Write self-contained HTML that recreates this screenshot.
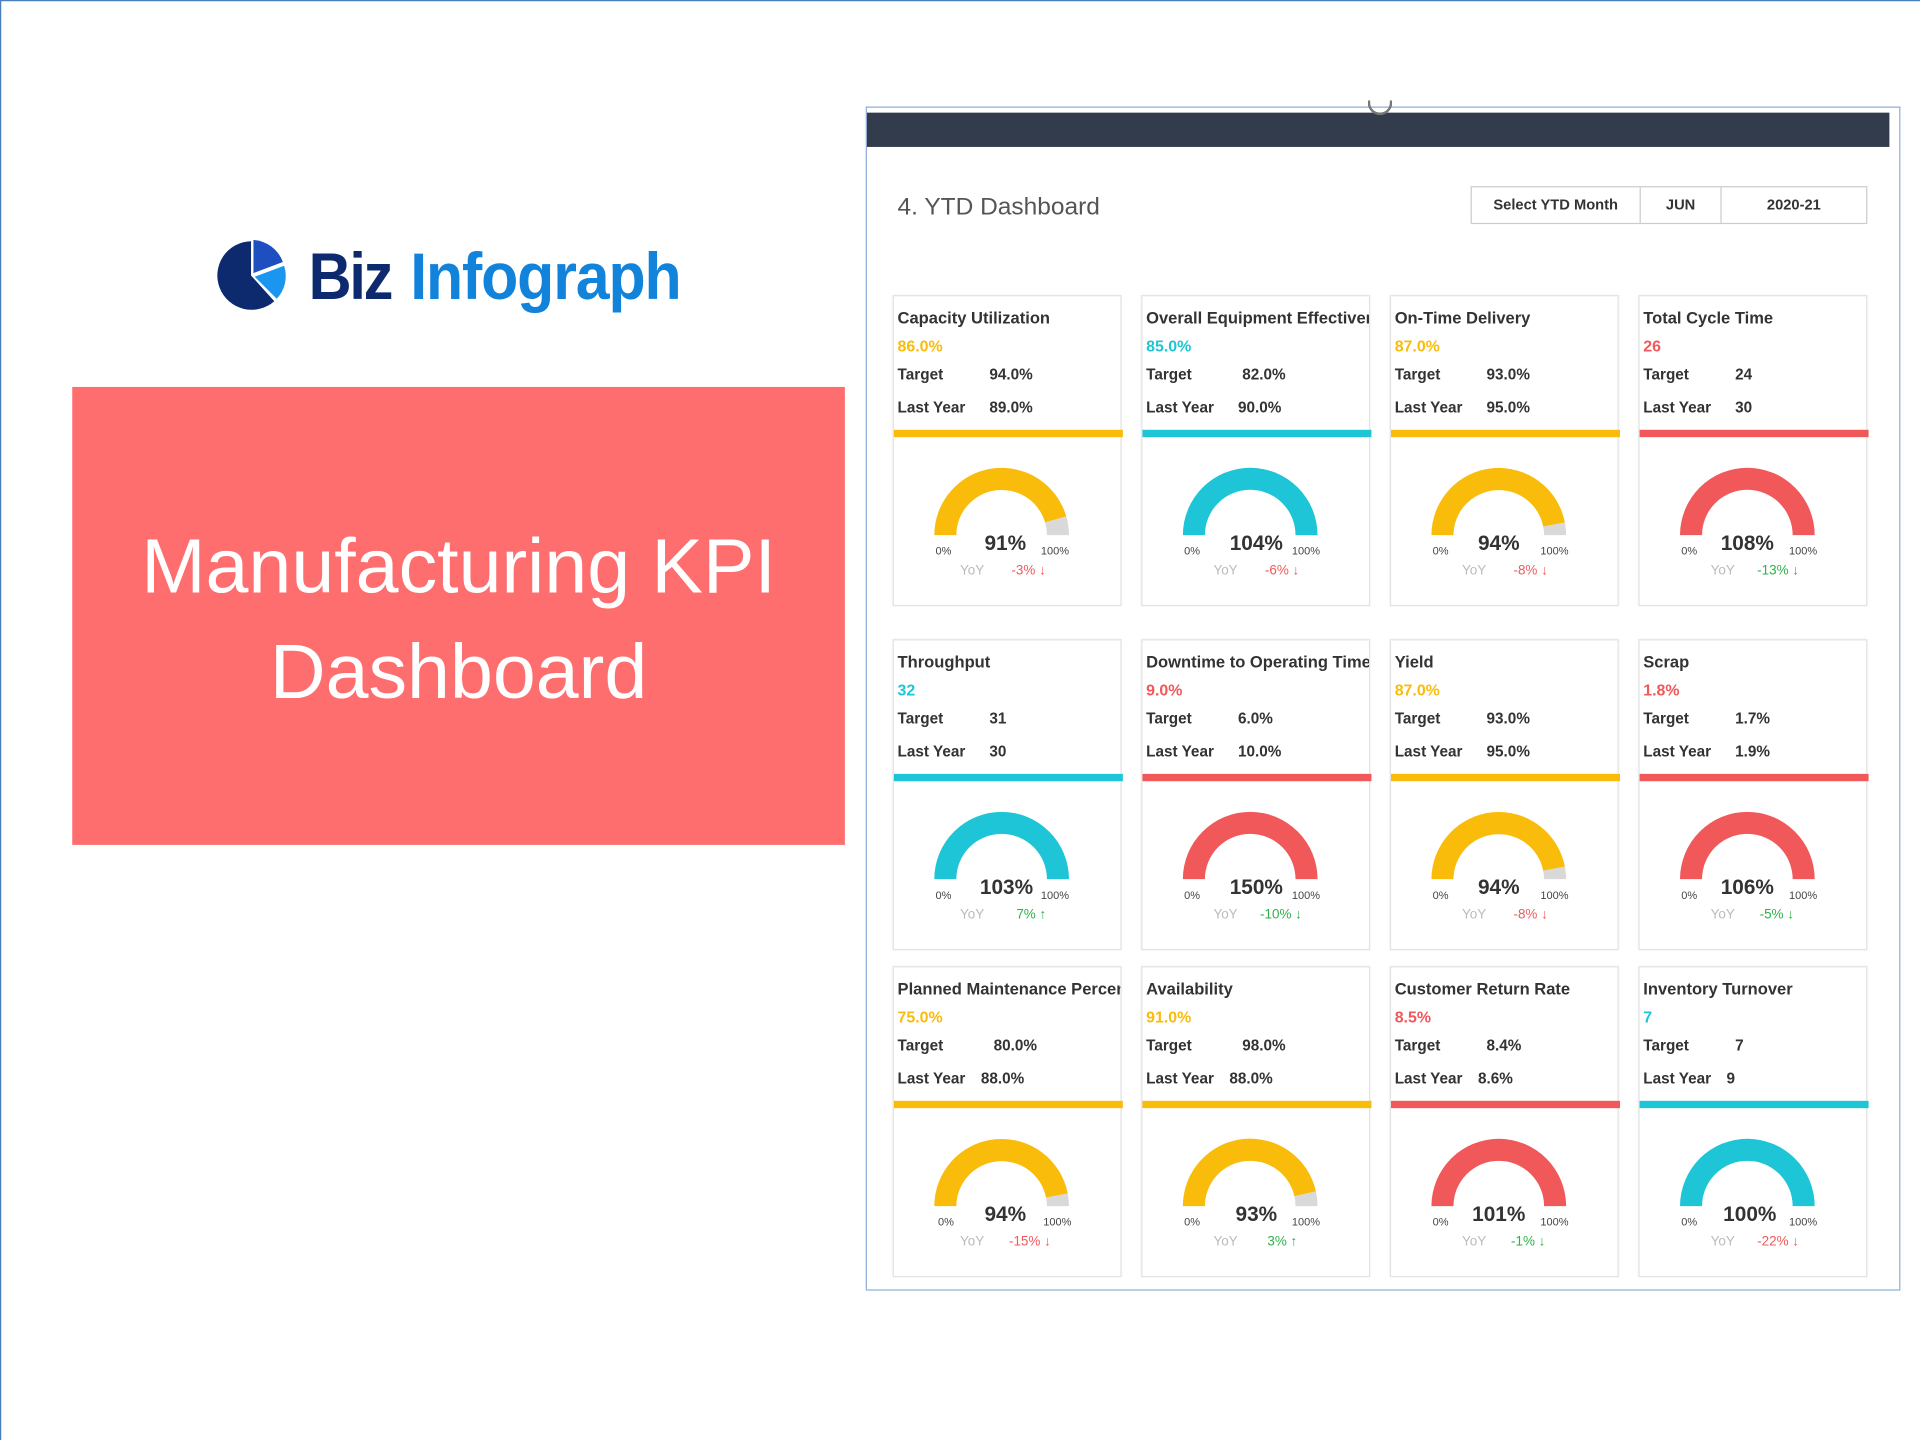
<!DOCTYPE html>
<html><head><meta charset="utf-8">
<style>
html,body{margin:0;padding:0;background:#fff;}
body{width:1920px;height:1440px;overflow:hidden;position:relative;font-family:"Liberation Sans",sans-serif;}
#w{position:absolute;left:0;top:0;width:1568px;height:1176px;transform:scale(1.22449);transform-origin:0 0;}
.abs{position:absolute;}
.card{position:absolute;width:185px;height:252px;border:1px solid #e2e2e2;background:#fff;box-shadow:0 0 2px #eee;}
.t{position:absolute;left:3px;top:10px;font-size:13.5px;font-weight:bold;color:#333;white-space:nowrap;width:182px;overflow:hidden;}
.v{position:absolute;left:3px;top:33px;font-size:13px;font-weight:bold;}
.r1,.r2{position:absolute;left:3px;font-size:12.5px;font-weight:bold;color:#333;}
.r1{top:57px}.r2{top:84px}
.r1 span,.r2 span{position:absolute;left:75px;white-space:nowrap;}
.bar{position:absolute;left:0;top:109px;width:187px;height:6px;}
.g{position:absolute;left:0;top:115px;}
.Y{color:#f9bc0b}.C{color:#1ec5d6}.R{color:#f0585a}
.yb{background:#f9bc0b}.cb{background:#1ec5d6}.rb{background:#f0585a}
</style></head><body><div id="w">
<div class="abs" style="left:0;top:0;width:1px;height:1176px;background:#4a7ebb"></div>
<div class="abs" style="left:0;top:0;width:1568px;height:1px;background:#4a7ebb"></div>
<!-- logo -->
<svg class="abs" style="left:174px;top:194px" width="64" height="62" viewBox="0 0 64 62">
<path d="M31,31 L31,3 A28,28 0 1 0 50,52 Z" fill="#0d2a6e"/>
<path d="M33,29 L33,2 A27,27 0 0 1 57,20 Z" fill="#1e4fc0"/>
<path d="M34,32 L58,23 A27,27 0 0 1 52,50 Z" fill="#1a96f0"/>
</svg>
<div class="abs" style="left:252px;top:195px;font-size:54px;font-weight:bold;color:#0d2a6e;letter-spacing:-2px;transform:scaleX(0.9);transform-origin:0 0;">Biz</div>
<div class="abs" style="left:335px;top:195px;font-size:54px;font-weight:bold;color:#1283db;letter-spacing:-1px;transform:scaleX(0.92);transform-origin:0 0;">Infograph</div>
<div class="abs" style="left:59px;top:316px;width:631px;height:374px;background:#fe6e6e;"></div>
<div class="abs" style="left:59px;top:420px;width:631px;text-align:center;color:#fff;font-size:63px;line-height:86px;">Manufacturing KPI<br>Dashboard</div>
<!-- dashboard -->
<div class="abs" style="left:707px;top:87px;width:845px;height:967px;border:1px solid #8faed6;box-sizing:border-box;"></div>
<div class="abs" style="left:708px;top:92px;width:835px;height:28px;background:#323c4c;"></div>
<div class="abs" style="left:1117px;top:82px;width:16px;height:10px;border:2px solid #777;border-top:none;border-radius:0 0 10px 10px;"></div>
<div class="abs" style="left:733px;top:158px;font-size:20px;color:#555;">4. YTD Dashboard</div>
<div class="abs" style="left:1201px;top:152px;width:324px;height:31px;border:1px solid #ccc;box-sizing:border-box;font-size:12px;font-weight:bold;color:#333;">
<div class="abs" style="left:0;top:0;width:137px;height:29px;line-height:29px;text-align:center;border-right:1px solid #ccc;">Select YTD Month</div>
<div class="abs" style="left:138px;top:0;width:65px;height:29px;line-height:29px;text-align:center;border-right:1px solid #ccc;">JUN</div>
<div class="abs" style="left:204px;top:0;width:118px;height:29px;line-height:29px;text-align:center;">2020-21</div>
</div>

<!-- Row 1 -->
<div class="card" style="left:729px;top:241px"><div class="t">Capacity Utilization</div><div class="v Y">86.0%</div><div class="r1">Target<span>94.0%</span></div><div class="r2">Last Year<span>89.0%</span></div><div class="bar yb"></div>
<svg class="g" width="187" height="137" viewBox="0 0 187 137"><g transform="translate(88,80)"><path d="M-55,0 A55,55 0 0 1 52.8,-15.3 L35.5,-10.3 A37,37 0 0 0 -37,0Z" fill="#f9bc0b"/><path d="M52.8,-15.3 A55,55 0 0 1 55,0 L37,0 A37,37 0 0 0 35.5,-10.3Z" fill="#d9d9d9"/></g>
<text x="91" y="92" font-size="17" font-weight="bold" text-anchor="middle" fill="#333">91%</text><text x="34" y="96" font-size="9" fill="#444">0%</text><text x="120" y="96" font-size="9" fill="#444">100%</text><text x="54" y="112" font-size="11" fill="#bbb">YoY</text><text x="96" y="112" font-size="11" fill="#f0585a">-3% ↓</text></svg></div>

<div class="card" style="left:932px;top:241px"><div class="t">Overall Equipment Effectiveness</div><div class="v C">85.0%</div><div class="r1">Target<span>&nbsp;82.0%</span></div><div class="r2">Last Year<span>90.0%</span></div><div class="bar cb"></div>
<svg class="g" width="187" height="137" viewBox="0 0 187 137"><g transform="translate(88,80)"><path d="M-55,0 A55,55 0 0 1 55,0 L37,0 A37,37 0 0 0 -37,0Z" fill="#1ec5d6"/></g>
<text x="93" y="92" font-size="17" font-weight="bold" text-anchor="middle" fill="#333">104%</text><text x="34" y="96" font-size="9" fill="#444">0%</text><text x="122" y="96" font-size="9" fill="#444">100%</text><text x="58" y="112" font-size="11" fill="#bbb">YoY</text><text x="100" y="112" font-size="11" fill="#f0585a">-6% ↓</text></svg></div>

<div class="card" style="left:1135px;top:241px"><div class="t">On-Time Delivery</div><div class="v Y">87.0%</div><div class="r1">Target<span>93.0%</span></div><div class="r2">Last Year<span>95.0%</span></div><div class="bar yb"></div>
<svg class="g" width="187" height="137" viewBox="0 0 187 137"><g transform="translate(88,80)"><path d="M-55,0 A55,55 0 0 1 54.0,-10.3 L36.3,-6.9 A37,37 0 0 0 -37,0Z" fill="#f9bc0b"/><path d="M54.0,-10.3 A55,55 0 0 1 55,0 L37,0 A37,37 0 0 0 36.3,-6.9Z" fill="#d9d9d9"/></g>
<text x="88" y="92" font-size="17" font-weight="bold" text-anchor="middle" fill="#333">94%</text><text x="34" y="96" font-size="9" fill="#444">0%</text><text x="122" y="96" font-size="9" fill="#444">100%</text><text x="58" y="112" font-size="11" fill="#bbb">YoY</text><text x="100" y="112" font-size="11" fill="#f0585a">-8% ↓</text></svg></div>

<div class="card" style="left:1338px;top:241px"><div class="t">Total Cycle Time</div><div class="v R">26</div><div class="r1">Target<span>24</span></div><div class="r2">Last Year<span>30</span></div><div class="bar rb"></div>
<svg class="g" width="187" height="137" viewBox="0 0 187 137"><g transform="translate(88,80)"><path d="M-55,0 A55,55 0 0 1 55,0 L37,0 A37,37 0 0 0 -37,0Z" fill="#f0585a"/></g>
<text x="88" y="92" font-size="17" font-weight="bold" text-anchor="middle" fill="#333">108%</text><text x="34" y="96" font-size="9" fill="#444">0%</text><text x="122" y="96" font-size="9" fill="#444">100%</text><text x="58" y="112" font-size="11" fill="#bbb">YoY</text><text x="96" y="112" font-size="11" fill="#2db24a">-13% ↓</text></svg></div>

<!-- Row 2 -->
<div class="card" style="left:729px;top:522px"><div class="t">Throughput</div><div class="v C">32</div><div class="r1">Target<span>31</span></div><div class="r2">Last Year<span>30</span></div><div class="bar cb"></div>
<svg class="g" width="187" height="137" viewBox="0 0 187 137"><g transform="translate(88,80)"><path d="M-55,0 A55,55 0 0 1 55,0 L37,0 A37,37 0 0 0 -37,0Z" fill="#1ec5d6"/></g>
<text x="92" y="92" font-size="17" font-weight="bold" text-anchor="middle" fill="#333">103%</text><text x="34" y="96" font-size="9" fill="#444">0%</text><text x="120" y="96" font-size="9" fill="#444">100%</text><text x="54" y="112" font-size="11" fill="#bbb">YoY</text><text x="100" y="112" font-size="11" fill="#2db24a">7% ↑</text></svg></div>

<div class="card" style="left:932px;top:522px"><div class="t">Downtime to Operating Time</div><div class="v R">9.0%</div><div class="r1">Target<span>6.0%</span></div><div class="r2">Last Year<span>10.0%</span></div><div class="bar rb"></div>
<svg class="g" width="187" height="137" viewBox="0 0 187 137"><g transform="translate(88,80)"><path d="M-55,0 A55,55 0 0 1 55,0 L37,0 A37,37 0 0 0 -37,0Z" fill="#f0585a"/></g>
<text x="93" y="92" font-size="17" font-weight="bold" text-anchor="middle" fill="#333">150%</text><text x="34" y="96" font-size="9" fill="#444">0%</text><text x="122" y="96" font-size="9" fill="#444">100%</text><text x="58" y="112" font-size="11" fill="#bbb">YoY</text><text x="96" y="112" font-size="11" fill="#2db24a">-10% ↓</text></svg></div>

<div class="card" style="left:1135px;top:522px"><div class="t">Yield</div><div class="v Y">87.0%</div><div class="r1">Target<span>93.0%</span></div><div class="r2">Last Year<span>95.0%</span></div><div class="bar yb"></div>
<svg class="g" width="187" height="137" viewBox="0 0 187 137"><g transform="translate(88,80)"><path d="M-55,0 A55,55 0 0 1 54.0,-10.3 L36.3,-6.9 A37,37 0 0 0 -37,0Z" fill="#f9bc0b"/><path d="M54.0,-10.3 A55,55 0 0 1 55,0 L37,0 A37,37 0 0 0 36.3,-6.9Z" fill="#d9d9d9"/></g>
<text x="88" y="92" font-size="17" font-weight="bold" text-anchor="middle" fill="#333">94%</text><text x="34" y="96" font-size="9" fill="#444">0%</text><text x="122" y="96" font-size="9" fill="#444">100%</text><text x="58" y="112" font-size="11" fill="#bbb">YoY</text><text x="100" y="112" font-size="11" fill="#f0585a">-8% ↓</text></svg></div>

<div class="card" style="left:1338px;top:522px"><div class="t">Scrap</div><div class="v R">1.8%</div><div class="r1">Target<span>1.7%</span></div><div class="r2">Last Year<span>1.9%</span></div><div class="bar rb"></div>
<svg class="g" width="187" height="137" viewBox="0 0 187 137"><g transform="translate(88,80)"><path d="M-55,0 A55,55 0 0 1 55,0 L37,0 A37,37 0 0 0 -37,0Z" fill="#f0585a"/></g>
<text x="88" y="92" font-size="17" font-weight="bold" text-anchor="middle" fill="#333">106%</text><text x="34" y="96" font-size="9" fill="#444">0%</text><text x="122" y="96" font-size="9" fill="#444">100%</text><text x="58" y="112" font-size="11" fill="#bbb">YoY</text><text x="98" y="112" font-size="11" fill="#2db24a">-5% ↓</text></svg></div>

<!-- Row 3 -->
<div class="card" style="left:729px;top:789px"><div class="t">Planned Maintenance Percentage</div><div class="v Y">75.0%</div><div class="r1">Target<span>&nbsp;80.0%</span></div><div class="r2">Last Year<span style="left:68px">88.0%</span></div><div class="bar yb"></div>
<svg class="g" width="187" height="137" viewBox="0 0 187 137"><g transform="translate(88,80)"><path d="M-55,0 A55,55 0 0 1 54.0,-10.3 L36.3,-6.9 A37,37 0 0 0 -37,0Z" fill="#f9bc0b"/><path d="M54.0,-10.3 A55,55 0 0 1 55,0 L37,0 A37,37 0 0 0 36.3,-6.9Z" fill="#d9d9d9"/></g>
<text x="91" y="92" font-size="17" font-weight="bold" text-anchor="middle" fill="#333">94%</text><text x="36" y="96" font-size="9" fill="#444">0%</text><text x="122" y="96" font-size="9" fill="#444">100%</text><text x="54" y="112" font-size="11" fill="#bbb">YoY</text><text x="94" y="112" font-size="11" fill="#f0585a">-15% ↓</text></svg></div>

<div class="card" style="left:932px;top:789px"><div class="t">Availability</div><div class="v Y">91.0%</div><div class="r1">Target<span>&nbsp;98.0%</span></div><div class="r2">Last Year<span style="left:68px">88.0%</span></div><div class="bar yb"></div>
<svg class="g" width="187" height="137" viewBox="0 0 187 137"><g transform="translate(88,80)"><path d="M-55,0 A55,55 0 0 1 53.7,-12.0 L36.1,-8.1 A37,37 0 0 0 -37,0Z" fill="#f9bc0b"/><path d="M53.7,-12.0 A55,55 0 0 1 55,0 L37,0 A37,37 0 0 0 36.1,-8.1Z" fill="#d9d9d9"/></g>
<text x="93" y="92" font-size="17" font-weight="bold" text-anchor="middle" fill="#333">93%</text><text x="34" y="96" font-size="9" fill="#444">0%</text><text x="122" y="96" font-size="9" fill="#444">100%</text><text x="58" y="112" font-size="11" fill="#bbb">YoY</text><text x="102" y="112" font-size="11" fill="#2db24a">3% ↑</text></svg></div>

<div class="card" style="left:1135px;top:789px"><div class="t">Customer Return Rate</div><div class="v R">8.5%</div><div class="r1">Target<span>8.4%</span></div><div class="r2">Last Year<span style="left:68px">8.6%</span></div><div class="bar rb"></div>
<svg class="g" width="187" height="137" viewBox="0 0 187 137"><g transform="translate(88,80)"><path d="M-55,0 A55,55 0 0 1 55,0 L37,0 A37,37 0 0 0 -37,0Z" fill="#f0585a"/></g>
<text x="88" y="92" font-size="17" font-weight="bold" text-anchor="middle" fill="#333">101%</text><text x="34" y="96" font-size="9" fill="#444">0%</text><text x="122" y="96" font-size="9" fill="#444">100%</text><text x="58" y="112" font-size="11" fill="#bbb">YoY</text><text x="98" y="112" font-size="11" fill="#2db24a">-1% ↓</text></svg></div>

<div class="card" style="left:1338px;top:789px"><div class="t">Inventory Turnover</div><div class="v C">7</div><div class="r1">Target<span>7</span></div><div class="r2">Last Year<span style="left:68px">9</span></div><div class="bar cb"></div>
<svg class="g" width="187" height="137" viewBox="0 0 187 137"><g transform="translate(88,80)"><path d="M-55,0 A55,55 0 0 1 55,0 L37,0 A37,37 0 0 0 -37,0Z" fill="#1ec5d6"/></g>
<text x="90" y="92" font-size="17" font-weight="bold" text-anchor="middle" fill="#333">100%</text><text x="34" y="96" font-size="9" fill="#444">0%</text><text x="122" y="96" font-size="9" fill="#444">100%</text><text x="58" y="112" font-size="11" fill="#bbb">YoY</text><text x="96" y="112" font-size="11" fill="#f0585a">-22% ↓</text></svg></div>

</div></body></html>
